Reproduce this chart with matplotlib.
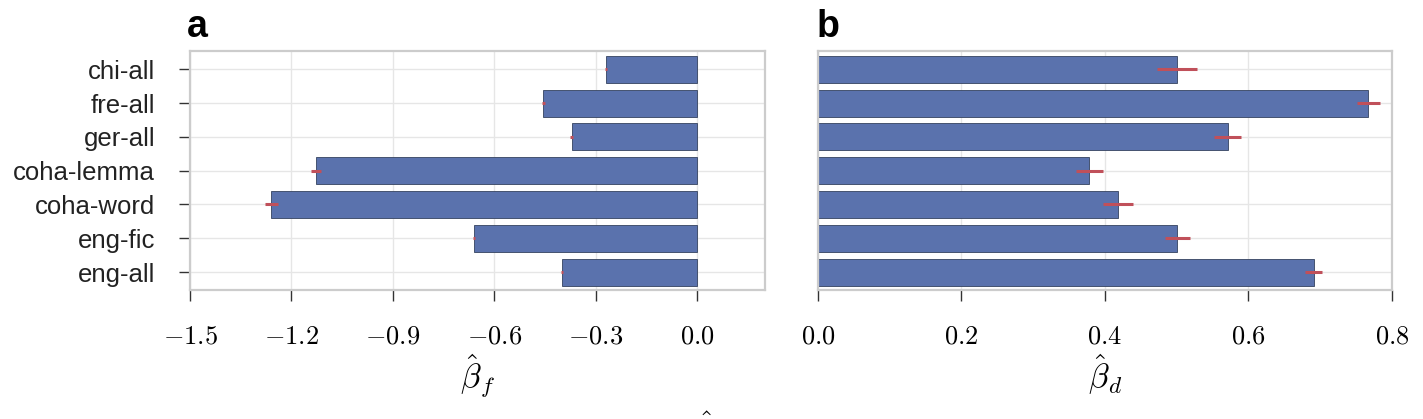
import matplotlib
matplotlib.use("Agg")
import matplotlib.pyplot as plt
from matplotlib.ticker import FuncFormatter

plt.rcParams["font.family"] = ["Liberation Sans", "DejaVu Sans"]
plt.rcParams["mathtext.fontset"] = "cm"

# data, top to bottom
corpora = ["chi-all", "fre-all", "ger-all", "coha-lemma", "coha-word", "eng-fic", "eng-all"]
beta_f = [-0.270, -0.455, -0.372, -1.128, -1.260, -0.660, -0.400]
beta_f_err = [0.004, 0.004, 0.004, 0.015, 0.019, 0.004, 0.004]
beta_d = [0.500, 0.767, 0.571, 0.378, 0.418, 0.501, 0.691]
beta_d_err = [0.028, 0.016, 0.019, 0.019, 0.021, 0.018, 0.012]

f_ticks = [-1.5, -1.2, -0.9, -0.6, -0.3, 0.0]
d_ticks = [0.0, 0.2, 0.4, 0.6, 0.8]

BAR = "#5a72ad"
EDGE = "#34425f"
ERR = "#c0505a"
FRAME = "#cccccc"
GRID = "#e6e6e6"

fig = plt.figure(figsize=(14.23, 4.19), dpi=100)
ax_f = fig.add_axes([0.1335, 0.3079, 0.4041, 0.5711])
ax_d = fig.add_axes([0.5748, 0.3079, 0.4034, 0.5711])

ypos = list(range(len(corpora)))


def style(ax, ticks, lim):
    ax.set_xlim(*lim)
    ax.set_ylim(6.53, -0.55)
    ax.set_xticks(ticks)
    ax.xaxis.set_major_formatter(FuncFormatter(lambda v, p: f"${v:.1f}$"))
    ax.set_yticks(ypos)
    ax.grid(True, color=GRID, lw=1.0, zorder=0)
    ax.set_axisbelow(True)
    for s in ax.spines.values():
        s.set_color(FRAME)
        s.set_linewidth(1.6)
    ax.tick_params(axis="x", direction="out", length=8, width=1.0,
                   color="#333333", pad=17, labelsize=19)
    ax.tick_params(axis="y", direction="out", length=8, width=1.0,
                   color="#333333", pad=17, labelsize=18.5, labelcolor="#222222")


ax_f.barh(ypos, beta_f, height=0.8, color=BAR, edgecolor=EDGE, lw=0.6, zorder=2)
ax_f.errorbar(beta_f, ypos, xerr=beta_f_err, fmt="none", ecolor=ERR,
              elinewidth=2.2, capsize=0, zorder=3)
style(ax_f, f_ticks, (-1.5, 0.2))
ax_f.set_yticklabels(corpora)
ax_f.set_xlabel(r"$\hat{\beta}_f$", fontsize=24, labelpad=3)

ax_d.barh(ypos, beta_d, height=0.8, color=BAR, edgecolor=EDGE, lw=0.6, zorder=2)
ax_d.errorbar(beta_d, ypos, xerr=beta_d_err, fmt="none", ecolor=ERR,
              elinewidth=2.2, capsize=0, zorder=3)
style(ax_d, d_ticks, (0.0, 0.8))
ax_d.tick_params(axis="y", left=False, labelleft=False)
ax_d.set_xlabel(r"$\hat{\beta}_d$", fontsize=24, labelpad=3)

fig.text(0.131, 0.912, "a", fontsize=27, fontweight="bold", va="baseline")
fig.text(0.5735, 0.912, "b", fontsize=27, fontweight="bold", va="baseline")

# cut-off hat of a label from below the crop
fig.text(0.496, 0.058, r"$\hat{\ }$", fontsize=22, ha="center", va="top")

fig.savefig("out.png", dpi=100)
